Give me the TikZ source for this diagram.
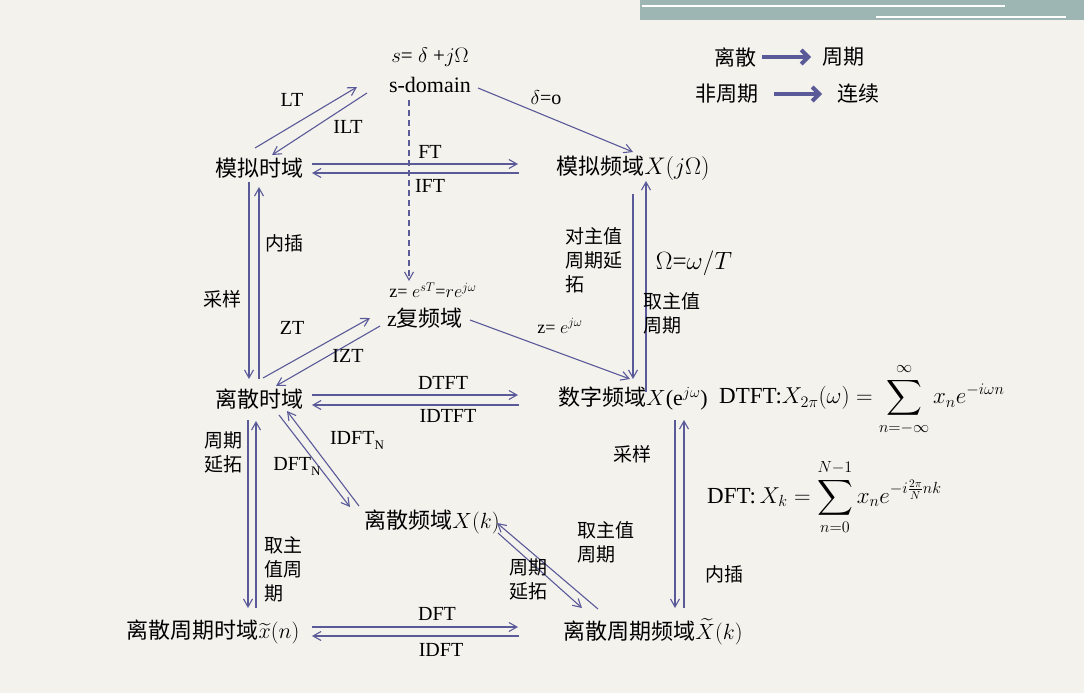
\documentclass[tikz,border=0pt]{standalone}
\usepackage{fix-cm}
\usepackage{amsmath}
\usepackage{fontspec}
\setmainfont{Liberation Serif}
\newfontfamily\cjk{Noto Sans CJK SC}
\usetikzlibrary{arrows.meta}
\definecolor{bg}{HTML}{F4F2ED}
\definecolor{ar}{HTML}{5A5A98}
\definecolor{band}{HTML}{9DB5B3}
\newcommand{\cj}[1]{{\cjk #1}}
\begin{document}
\begin{tikzpicture}[x=1pt,y=-1pt,
  every node/.style={inner sep=0pt,font=\fontsize{22}{25}\selectfont},
  lab/.style={font=\fontsize{20}{22}\selectfont},
  clab/.style={font=\fontsize{19}{24}\selectfont\cjk,align=left},
  ln/.style={draw=ar,line width=1.1pt,-{Straight Barb[length=8pt,width=9pt]}}]
\fill[bg] (0,0) rectangle (1084,693);
\useasboundingbox (0,0) rectangle (1084,693);
\fill[band] (640,0) rectangle (1084,20);
\draw[white,line width=2pt] (642,6) -- (1005,6);
\draw[white,line width=2pt] (876,17) -- (1066,17);
% nodes
\node (s1) at (430,57) {\fontsize{21}{22}\selectfont$s$= $\delta$ +$j\Omega$};
\node (s) at (430,85) {s-domain};
\node (at) at (259,168) {\cj{模拟时域}};
\node (af) at (633,168) {\cj{模拟频域}\fontsize{24}{25}\selectfont$X(j\Omega)$};
\node (z1) at (433,290) {\fontsize{18}{20}\selectfont z= $e^{sT}$=$re^{j\omega}$};
\node (z) at (425,318) {z\cj{复频域}};
\node (dt) at (259,399) {\cj{离散时域}};
\node (df) at (633,399) {\cj{数字频域}$X$(e$^{j\omega}$)};
\node (dk) at (432,522) {\cj{离散频域}$X(k)$};
\node (pn) at (213,632) {\cj{离散周期时域}$\widetilde{x}(n)$};
\node (pk) at (653,632) {\cj{离散周期频域}$\widetilde{X}(k)$};
% top
\draw[ln] (255,148) -- (357,87);
\draw[ln] (367,93) -- (272,155);
\node[lab] (lt) at (292,100) {LT};
\node[lab] (ilt) at (348,127) {ILT};
\draw[ln] (478,88) -- (633,152);
\node[lab] (d0) at (546,98) {$\delta$=o};
\draw[ar,line width=1.1pt,dash pattern=on 6pt off 4pt,-{Straight Barb[length=8pt,width=9pt]}] (409,100) -- (409,281);
\draw[ln] (312,164) -- (518,164);
\draw[ln] (519,173) -- (312,173);
\node[lab] (ft) at (430,152) {FT};
\node[lab] (ift) at (430,186) {IFT};
% left upper vertical
\draw[ln] (249,182) -- (249,379);
\draw[ln] (259,379) -- (259,187);
\node[clab] (l1) at (284,243) {内插};
\node[clab] (l2) at (222,299) {采样};
% right upper vertical
\draw[ln] (646,392) -- (646,181);
\draw[ln] (633,194) -- (633,379);
\node[clab] (r1) at (594,260) {对主值\\周期延\\拓};
\node[clab] (r2) at (672,313) {取主值\\周期};
\node (om) at (694,263) {\fontsize{25}{26}\selectfont$\Omega$=$\omega/T$};
% z
\draw[ln] (263,378) -- (370,318);
\draw[ln] (380,326) -- (276,386);
\node[lab] (zt) at (292,328) {ZT};
\node[lab] (izt) at (348,356) {IZT};
\draw[ln] (470,320) -- (630,379);
\node[lab] (zj) at (560,326) {\fontsize{18}{20}\selectfont z= $e^{j\omega}$};
% DTFT
\draw[ln] (312,395) -- (518,395);
\draw[ln] (519,405) -- (312,405);
\node[lab] (dtft) at (443,383) {DTFT};
\node[lab] (idtft) at (448,416) {IDTFT};
% DFT_N
\draw[ln] (279,415) -- (350,507);
\draw[ln] (359,506) -- (287,411);
\node[lab] (idn) at (357,440) {IDFT\raisebox{-5pt}{\fontsize{13}{13}\selectfont N}};
\node[lab] (dn) at (297,466) {DFT\raisebox{-5pt}{\fontsize{13}{13}\selectfont N}};
% left lower vertical
\draw[ln] (248,420) -- (248,608);
\draw[ln] (256,608) -- (256,421);
\node[clab] (l3) at (223,452) {周期\\延拓};
\node[clab] (l4) at (283,569) {取主\\值周\\期};
% lower right diag
\draw[ln] (598,609) -- (497,523);
\draw[ln] (498,533) -- (582,608);
\node[clab] (r3) at (606,542) {取主值\\周期};
\node[clab] (r4) at (528,579) {周期\\延拓};
% right lower vertical
\draw[ln] (675,420) -- (675,608);
\draw[ln] (684,608) -- (684,420);
\node[clab] (r5) at (632,454) {采样};
\node[clab] (r6) at (724,574) {内插};
% DFT
\draw[ln] (312,627) -- (518,627);
\draw[ln] (519,636) -- (312,636);
\node[lab] (dft) at (437,614) {DFT};
\node[lab] (idft) at (441,650) {IDFT};
% legend
\node[font=\fontsize{21}{24}\selectfont\cjk] (a1) at (735,57) {离散};
\node[font=\fontsize{21}{24}\selectfont\cjk] (b1) at (843,57) {周期};
\node[font=\fontsize{21}{24}\selectfont\cjk] (a2) at (727,94) {非周期};
\node[font=\fontsize{21}{24}\selectfont\cjk] (b2) at (858,94) {连续};
\draw[ar,line width=4pt,-{Straight Barb[length=7pt,width=14pt]}] (762,57) -- (811,57);
\draw[ar,line width=4pt,-{Straight Barb[length=7pt,width=14pt]}] (774,94) -- (822,94);
% formulas
\node[anchor=west] (f1) at (719,400) {\fontsize{23}{26}\selectfont DTFT:$X_{2\pi}(\omega)=\displaystyle\sum_{n=-\infty}^{\infty}x_n e^{-i\omega n}$};
\node[anchor=west] (f2) at (707,497) {\fontsize{23}{26}\selectfont DFT:\,$X_k=\displaystyle\sum_{n=0}^{N-1}x_n e^{-i\frac{2\pi}{N}nk}$};
\end{tikzpicture}
\end{document}
